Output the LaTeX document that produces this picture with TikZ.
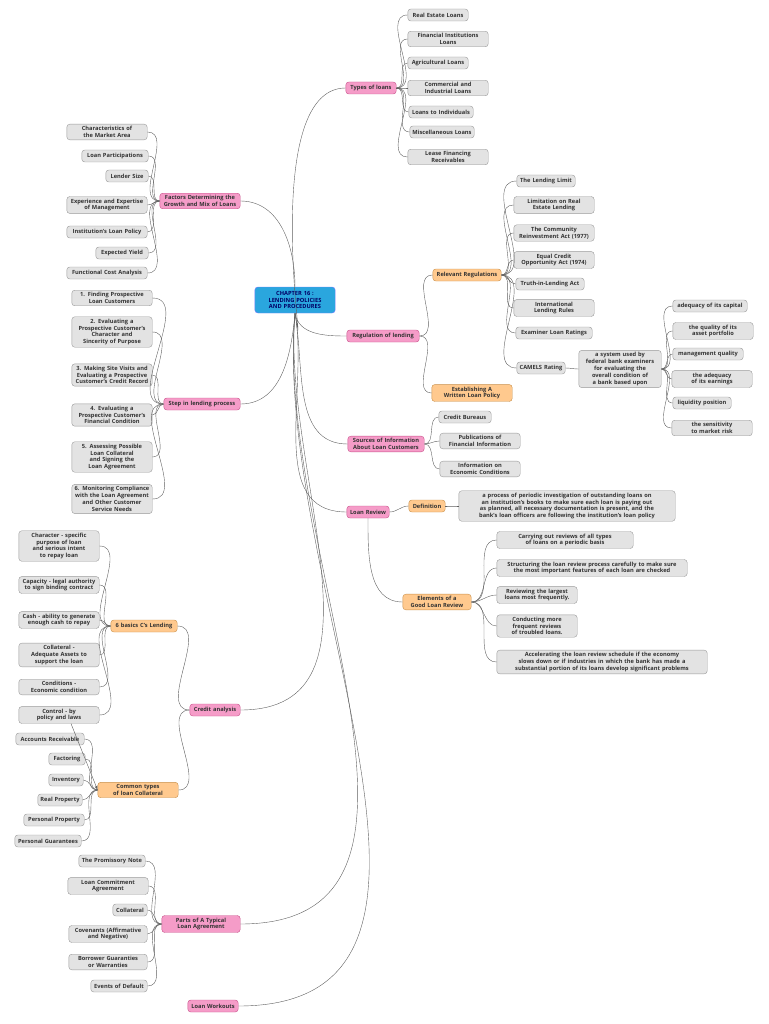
\documentclass[tikz,border=0pt]{standalone}
\usepackage{fontspec}
\setmainfont{Open Sans}
\definecolor{pkf}{HTML}{F59CC8}
\definecolor{pkd}{HTML}{C8508A}
\definecolor{ogf}{HTML}{FFC98E}
\definecolor{ogd}{HTML}{C8904A}
\definecolor{cf}{HTML}{2AA6DE}
\begin{document}
\begin{tikzpicture}[x=1pt,y=-1pt,
 base/.style={rounded corners=3pt,align=center,font=\bfseries\fontsize{5.7}{6.8}\selectfont,inner sep=2.2pt,minimum height=12pt,text=black!80,execute at begin node={\hyphenpenalty=10000\exhyphenpenalty=10000}},
 leaf/.style={base,fill=gray!22,draw=gray!80,text width=#1},
 leaf/.default=60pt,
 pk/.style={base,fill=pkf,draw=pkd,text width=#1},
 pk/.default=50pt,
 og/.style={base,fill=ogf,draw=ogd,text width=#1},
 og/.default=60pt,
 ln/.style={draw=gray!75!black,line width=0.4pt}]
\useasboundingbox (0,0) rectangle (768,1024);
\newcommand\lkR[2]{\draw[ln] (#1.east) to[out=0,in=180] (#2.west);}
\newcommand\lkL[2]{\draw[ln] (#1.west) to[out=180,in=0] (#2.east);}
% center
\node[base,fill=cf,draw=blue!50,text width=76pt,minimum height=26pt,text=blue!40!black] (c) at (295,300) {CHAPTER 16 : LENDING POLICIES AND PROCEDURES};
% types of loans
\node[pk=46pt] (tl) at (371,88) {Types of loans};
\node[leaf=56pt] (t1) at (438,15) {Real Estate Loans};
\node[leaf=76pt] (t2) at (448,39) {Financial Institutions\\Loans};
\node[leaf=56pt] (t3) at (438,63) {Agricultural Loans};
\node[leaf=76pt] (t4) at (448,88) {Commercial and Industrial Loans};
\node[leaf=60pt] (t5) at (441,112) {Loans to Individuals};
\node[leaf=60pt] (t6) at (442,132) {Miscellaneous Loans};
\node[leaf=76pt] (t7) at (448,157) {Lease Financing\\Receivables};
\foreach \i in {1,...,7}{\lkR{tl}{t\i}}
% factors
\node[pk=76pt] (fa) at (200,201) {Factors Determining the Growth and Mix of Loans};
\node[leaf=76pt] (f1) at (107,132) {Characteristics of the Market Area};
\node[leaf=62pt] (f2) at (115,156) {Loan Participations};
\node[leaf=38pt] (f3) at (127,176) {Lender Size};
\node[leaf=76pt] (f4) at (107,205) {Experience and Expertise of Management};
\node[leaf=76pt] (f5) at (107,232) {Institution's Loan Policy};
\node[leaf=48pt] (f6) at (122,253) {Expected Yield};
\node[leaf=76pt] (f7) at (107,273) {Functional Cost Analysis};
\foreach \i in {1,...,7}{\lkL{fa}{f\i}}
% steps
\node[pk=72pt] (st) at (202,404) {Step in lending process};
\node[leaf=76pt] (s1) at (112,298) {1. Finding Prospective Loan Customers};
\node[leaf=76pt] (s2) at (112,332) {2. Evaluating a Prospective Customer's Character and Sincerity of Purpose};
\node[leaf=76pt] (s3) at (112,375) {3. Making Site Visits and Evaluating a Prospective Customer's Credit Record};
\node[leaf=76pt] (s4) at (112,415) {4. Evaluating a Prospective Customer's Financial Condition};
\node[leaf=76pt] (s5) at (112,457) {5. Assessing Possible Loan Collateral and Signing the Loan Agreement};
\node[leaf=76pt] (s6) at (112,499) {6. Monitoring Compliance with the Loan Agreement and Other Customer Service Needs};
\foreach \i in {1,...,6}{\lkL{st}{s\i}}
% credit analysis
\node[pk=46pt] (ca) at (215,710) {Credit analysis};
\node[og=62pt] (cb) at (144,626) {6 basics C's Lending};
\node[leaf=76pt] (b1) at (59,546) {Character - specific purpose of loan and serious intent to repay loan};
\node[leaf=76pt] (b2) at (59,585) {Capacity - legal authority to sign binding contract};
\node[leaf=76pt] (b3) at (59,620) {Cash - ability to generate enough cash to repay};
\node[leaf=76pt] (b4) at (59,655) {Collateral - Adequate Assets to support the loan};
\node[leaf=76pt] (b5) at (59,687) {Conditions - Economic condition};
\node[leaf=76pt] (b6) at (59,715) {Control - by policy and laws};
\foreach \i in {1,...,6}{\lkL{cb}{b\i}}
\node[og=76pt] (cc) at (138,790) {Common types of loan Collateral};
\node[leaf=64pt] (k1) at (50,739) {Accounts Receivable};
\node[leaf=32pt] (k2) at (67,759) {Factoring};
\node[leaf=30pt] (k3) at (66,780) {Inventory};
\node[leaf=40pt] (k4) at (60,800) {Real Property};
\node[leaf=56pt] (k5) at (54,820) {Personal Property};
\node[leaf=62pt] (k6) at (48,841) {Personal Guarantees};
\foreach \i in {1,...,6}{\lkL{cc}{k\i}}
\lkL{ca}{cb}\lkL{ca}{cc}
\draw[ln,-latex] ([xshift=12pt]b6.south) -- (cc.west);
% parts
\node[pk=74pt] (pa) at (201,924) {Parts of A Typical Loan Agreement};
\node[leaf=62pt] (p1) at (112,861) {The Promissory Note};
\node[leaf=76pt] (p2) at (108,886) {Loan Commitment Agreement};
\node[leaf=30pt] (p3) at (130,910) {Collateral};
\node[leaf=74pt] (p4) at (108,934) {Covenants (Affirmative and Negative)};
\node[leaf=74pt] (p5) at (108,962) {Borrower Guaranties or Warranties};
\node[leaf=52pt] (p6) at (119,986) {Events of Default};
\foreach \i in {1,...,6}{\lkL{pa}{p\i}}
\node[pk=46pt] (lw) at (213,1006) {Loan Workouts};
% regulation
\node[pk=68pt] (rg) at (383,336) {Regulation of lending};
\node[og=64pt] (rr) at (467,275) {Relevant Regulations};
\node[leaf=54pt] (r1) at (546,181) {The Lending Limit};
\node[leaf=76pt] (r2) at (554,205) {Limitation on Real Estate Lending};
\node[leaf=76pt] (r3) at (554,233) {The Community Reinvestment Act (1977)};
\node[leaf=76pt] (r4) at (554,260) {Equal Credit Opportunity Act (1974)};
\node[leaf=64pt] (r5) at (550,284) {Truth-in-Lending Act};
\node[leaf=76pt] (r6) at (554,308) {International Lending Rules};
\node[leaf=72pt] (r7) at (554,333) {Examiner Loan Ratings};
\node[leaf=44pt] (r8) at (541,368) {CAMELS Rating};
\foreach \i in {1,...,8}{\lkR{rr}{r\i}}
\node[leaf=78pt] (cm) at (620,369) {a system used by federal bank examiners for evaluating the overall condition of a bank based upon};
\lkR{r8}{cm}
\node[leaf=70pt] (m1) at (710,306) {adequacy of its capital};
\node[leaf=76pt] (m2) at (713,331) {the quality of its asset portfolio};
\node[leaf=66pt] (m3) at (708,354) {management quality};
\node[leaf=76pt] (m4) at (712,379) {the adequacy of its earnings};
\node[leaf=54pt] (m5) at (702,403) {liquidity position};
\node[leaf=76pt] (m6) at (712,428) {the sensitivity to market risk};
\foreach \i in {1,...,6}{\lkR{cm}{m\i}}
\node[og=76pt] (wp) at (472,393) {Establishing A Written Loan Policy};
\lkR{rg}{rr}\lkR{rg}{wp}
% sources
\node[pk=72pt] (so) at (386,444) {Sources of Information About Loan Customers};
\node[leaf=48pt] (o1) at (465,417) {Credit Bureaus};
\node[leaf=76pt] (o2) at (480,441) {Publications of Financial Information};
\node[leaf=76pt] (o3) at (480,469) {Information on Economic Conditions};
\foreach \i in {1,...,3}{\lkR{so}{o\i}}
% loan review
\node[pk=38pt] (lv) at (368,512) {Loan Review};
\node[og=32pt] (de) at (427,506) {Definition};
\node[leaf=212pt] (dt) at (567,506) {a process of periodic investigation of outstanding loans on an institution's books to make sure each loan is paying out as planned, all necessary documentation is present, and the bank's loan officers are following the institution's loan policy};
\lkR{de}{dt}
\node[og=64pt] (el) at (437,602) {Elements of a Good Loan Review};
\node[leaf=132pt] (e1) at (565,540) {Carrying out reviews of all types of loans on a periodic basis};
\node[leaf=186pt] (e2) at (592,568) {Structuring the loan review process carefully to make sure the most important features of each loan are checked};
\node[leaf=76pt] (e3) at (537,595) {Reviewing the largest loans most frequently.};
\node[leaf=76pt] (e4) at (537,626) {Conducting more frequent reviews of troubled loans.};
\node[leaf=206pt] (e5) at (602,662) {Accelerating the loan review schedule if the economy slows down or if industries in which the bank has made a substantial portion of its loans develop significant problems};
\foreach \i in {1,...,5}{\lkR{el}{e\i}}
\lkR{lv}{de}
\draw[ln] (lv.south) to[out=-90,in=180] (el.west);
% center links
\foreach \n in {tl,rg,so,lv}{\draw[ln] (c.south) to[out=-80,in=180] (\n.west);}
\draw[ln] (c.north) to[out=90,in=0] (fa.east);
\foreach \n in {st,ca,pa,lw}{\draw[ln] (c.south) to[out=-95,in=0] (\n.east);}
\end{tikzpicture}
\end{document}
